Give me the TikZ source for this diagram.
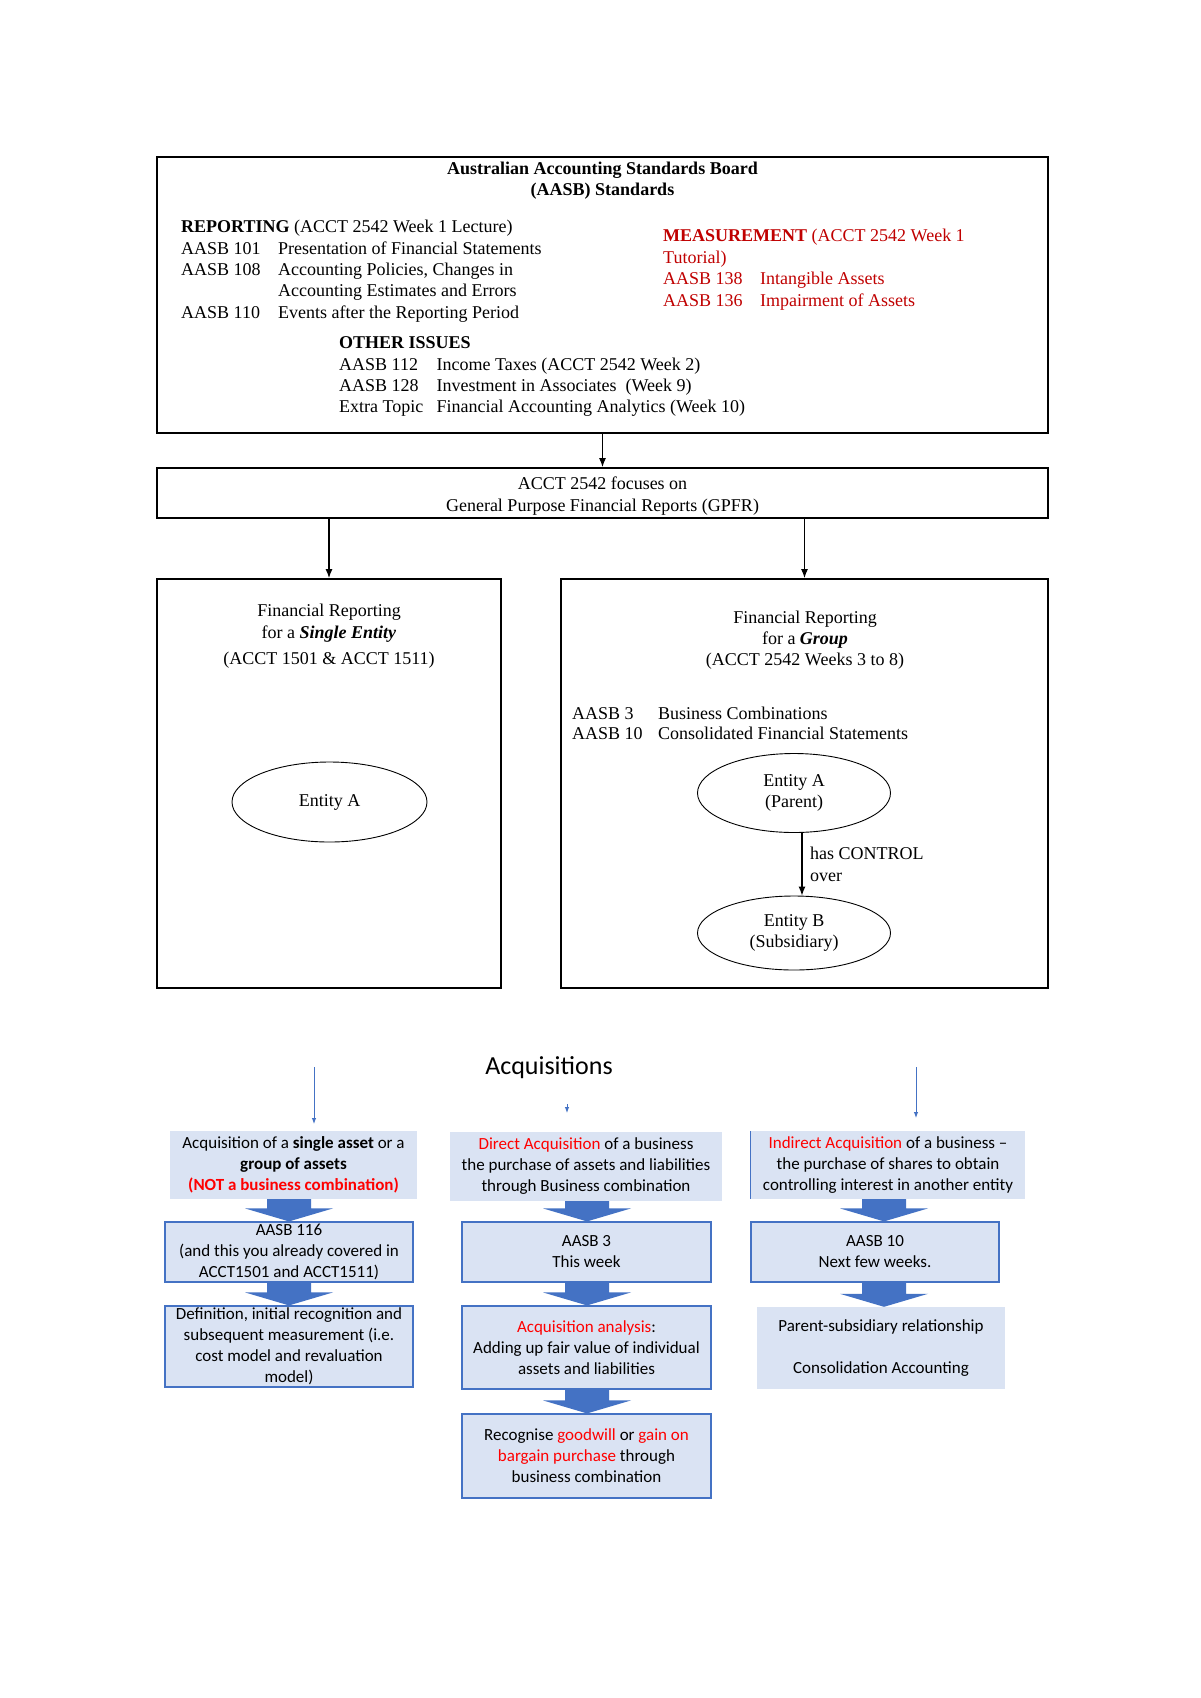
\documentclass[tikz,border=0pt]{standalone}
\usepackage{fontspec}
\setmainfont{Liberation Serif}
\newfontfamily\calfam[Ligatures=TeX]{Carlito}
\usetikzlibrary{arrows.meta,shapes.geometric,calc}
\definecolor{dred}{HTML}{C00000}
\definecolor{bred}{HTML}{FF0000}
\definecolor{abl}{HTML}{4472C4}
\definecolor{fillbl}{HTML}{DAE3F3}
\newcommand\tnr{\fontsize{18}{21}\selectfont}
\newcommand\calf{\calfam\fontsize{17}{21}\selectfont}
\newcommand\rd[1]{\textcolor{bred}{#1}}
\newcommand\blkarr[3]{\fill[abl] let \p1=(#2.south), \p2=(#3.north) in
  ({#1pt-22pt},\y1) -- ({#1pt+22pt},\y1) -- ({#1pt+22pt},{\y2+13pt}) --
  ({#1pt+44pt},{\y2+13pt}) -- ({#1pt},\y2) -- ({#1pt-44pt},{\y2+13pt}) --
  ({#1pt-22pt},{\y2+13pt}) -- cycle;}
\begin{document}
\begin{tikzpicture}[x=1pt,y=-1pt,
  frame/.style={draw=black,line width=1.8pt,inner sep=0pt},
  tt/.style={inner sep=0pt,font=\tnr,anchor=base west},
  tc/.style={inner sep=0pt,font=\tnr,anchor=base},
  blk/.style={-{Latex[length=9pt,width=7pt]},line width=1.2pt},
  ent/.style={ellipse,draw=black,line width=0.9pt,inner sep=0pt,font=\tnr,align=center},
  bx/.style={fill=fillbl,inner sep=0pt,align=center,font=\calf},
  bxd/.style={bx,draw=abl,line width=1.2pt},
  barrow/.style={draw=abl,line width=1pt,-{Latex[length=6pt,width=4.5pt]}}]
\useasboundingbox[fill=white] (0,0) rectangle (1200,1698);

% ---------- top box ----------
\node[frame,minimum width=891,minimum height=276] (T) at (602.5,295) {};
\node[tc,font=\tnr\bfseries] (t1) at (602.5,174) {Australian Accounting Standards Board};
\node[tc,font=\tnr\bfseries] (t2) at (602.5,195) {(AASB) Standards};

\node[tt] (r0) at (181,232) {\textbf{REPORTING} (ACCT 2542 Week 1 Lecture)};
\node[tt] (r1a) at (181,254) {AASB 101};
\node[tt] (r1b) at (278,254) {Presentation of Financial Statements};
\node[tt] (r2a) at (181,275) {AASB 108};
\node[tt] (r2b) at (278,275) {Accounting Policies, Changes in};
\node[tt] (r3b) at (278,296) {Accounting Estimates and Errors};
\node[tt] (r4a) at (181,318) {AASB 110};
\node[tt] (r4b) at (278,318) {Events after the Reporting Period};

\node[tt,text=dred] (m0) at (663,241) {\textbf{MEASUREMENT} (ACCT 2542 Week 1};
\node[tt,text=dred] (m1) at (663,263) {Tutorial)};
\node[tt,text=dred] (m2a) at (663,284) {AASB 138};
\node[tt,text=dred] (m2b) at (760,284) {Intangible Assets};
\node[tt,text=dred] (m3a) at (663,306) {AASB 136};
\node[tt,text=dred] (m3b) at (760,306) {Impairment of Assets};

\node[tt] (o0) at (339,348) {\textbf{OTHER ISSUES}};
\node[tt] (o1a) at (339,370) {AASB 112};
\node[tt] (o1b) at (436.5,370) {Income Taxes (ACCT 2542 Week 2)};
\node[tt] (o2a) at (339,391) {AASB 128};
\node[tt] (o2b) at (436.5,391) {Investment in Associates\ \ (Week 9)};
\node[tt] (o3a) at (339,412) {Extra Topic};
\node[tt] (o3b) at (436.5,412) {Financial Accounting Analytics (Week 10)};

% ---------- GPFR box ----------
\node[frame,minimum width=891,minimum height=50] (G) at (602.5,493) {};
\node[tc] (g1) at (602.5,489) {ACCT 2542 focuses on};
\node[tc] (g2) at (602.5,511) {General Purpose Financial Reports (GPFR)};
\draw[blk] (T.south) -- (G.north);

% ---------- single entity box ----------
\node[frame,minimum width=344,minimum height=409] (LB) at (329,783.5) {};
\node[tc] (lb1) at (329,616) {Financial Reporting};
\node[tc] (lb2) at (329,638) {for a \textbf{\textit{Single Entity}}};
\node[tc] (lb3) at (329,664) {(ACCT 1501 \& ACCT 1511)};
\node[ent,minimum width=195,minimum height=80] (EA) at (329.5,802) {Entity A};

% ---------- group box ----------
\node[frame,minimum width=487,minimum height=409] (RB) at (804.5,783.5) {};
\node[tc] (rb1) at (805,623) {Financial Reporting};
\node[tc] (rb2) at (805,644) {for a \textbf{\textit{Group}}};
\node[tc] (rb3) at (805,665) {(ACCT 2542 Weeks 3 to 8)};
\node[tt] (s1a) at (572,719) {AASB 3};
\node[tt] (s1b) at (658,719) {Business Combinations};
\node[tt] (s2a) at (572,739) {AASB 10};
\node[tt] (s2b) at (658,739) {Consolidated Financial Statements};
\node[ent,minimum width=193,minimum height=79] (PA) at (794,793) {Entity A\\(Parent)};
\node[ent,minimum width=193,minimum height=74] (SB) at (794,933) {Entity B\\(Subsidiary)};
\draw[blk] ([xshift=8pt]PA.south) -- ([xshift=8pt]SB.north);
\node[tt] (c1) at (810,859) {has CONTROL};
\node[tt] (c2) at (810,881) {over};

\draw[blk] (G.south -| LB.north) -- (LB.north);
\draw[blk] (G.south -| RB.north) -- (RB.north);

% ---------- acquisitions ----------
\node[inner sep=0pt,font=\calfam\fontsize{26}{30}\selectfont] (acq) at (549,1068) {Acquisitions};

\node[bx,minimum width=247,minimum height=68] (L1) at (293.5,1165)
  {Acquisition of a \textbf{single asset} or a\\ \textbf{group of assets}\\ \rd{\textbf{(NOT a business combination)}}};
\node[bxd,minimum width=248,minimum height=60] (L2) at (289,1252)
  {AASB 116\\ (and this you already covered in\\ ACCT1501 and ACCT1511)};
\node[bxd,minimum width=248,minimum height=81] (L3) at (289,1346.5)
  {Definition, initial recognition and\\ subsequent measurement (i.e.\\ cost model and revaluation\\ model)};

\node[bx,minimum width=272,minimum height=69] (M1) at (586,1166.5)
  {\rd{Direct Acquisition} of a business\\ the purchase of assets and liabilities\\ through Business combination};
\node[bxd,minimum width=249,minimum height=60] (M2) at (586.5,1252)
  {AASB 3\\ This week};
\node[bxd,minimum width=249,minimum height=83] (M3) at (586.5,1347.5)
  {\rd{Acquisition analysis}:\\ Adding up fair value of individual\\ assets and liabilities};
\node[bxd,minimum width=249,minimum height=84] (M4) at (586.5,1456)
  {Recognise \rd{goodwill} or \rd{gain on}\\ \rd{bargain purchase} through\\ business combination};

\node[bx,minimum width=274,minimum height=68] (R1) at (888,1165)
  {\rd{Indirect Acquisition} of a business \textendash\\ the purchase of shares to obtain\\ controlling interest in another entity};
\draw[abl,line width=1.2pt] (R1.north west) -- (R1.south west);
\node[bxd,minimum width=248,minimum height=60] (R2) at (875,1252)
  {AASB 10\\ Next few weeks.};
\node[bx,minimum width=248,minimum height=82] (R3) at (881,1348)
  {Parent-subsidiary relationship\\[21pt] Consolidation Accounting};

\blkarr{289}{L1}{L2}
\blkarr{289}{L2}{L3}
\blkarr{587}{M1}{M2}
\blkarr{587}{M2}{M3}
\blkarr{587}{M3}{M4}
\blkarr{884}{R1}{R2}
\blkarr{884}{R2}{R3}

\coordinate (la1) at (314,1067);
\coordinate (la2) at (314,1124);
\coordinate (ma1) at (567,1104);
\coordinate (ma2) at (567,1113);
\coordinate (ra1) at (916,1067);
\coordinate (ra2) at (916,1118);
\draw[barrow] (la1) -- (la2);
\draw[barrow] (ma1) -- (ma2);
\draw[barrow] (ra1) -- (ra2);
\end{tikzpicture}
\end{document}
